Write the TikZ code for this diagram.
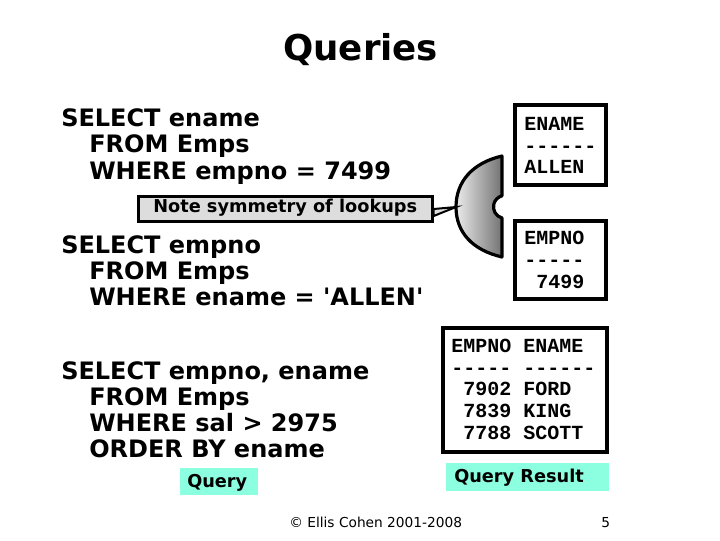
\documentclass[tikz,border=0pt]{standalone}
\usepackage{fontspec}
\setmainfont{DejaVu Sans}
\setmonofont{Liberation Mono}
\newfontfamily\sqlf{DejaVu Sans}
\begin{document}
\begin{tikzpicture}[x=0.75pt,y=-0.75pt,
  txt/.style={inner sep=0pt,anchor=base west},
  sql/.style={txt,font=\fontsize{18}{20}\selectfont\sqlf\bfseries},
  res/.style={txt,font=\fontsize{15}{16.4}\selectfont\ttfamily\bfseries},
  outbox/.style={draw=black,line width=2.7pt,fill=white,inner sep=0pt},
  tag/.style={fill=tagc,inner sep=0pt},
  tagtxt/.style={txt,font=\fontsize{13.3}{15}\selectfont\bfseries},
  foot/.style={txt,font=\fontsize{10.3}{12}\selectfont}]
\definecolor{tagc}{HTML}{8CFFE0}
\definecolor{notec}{HTML}{DDDDDD}
\useasboundingbox (0,0) rectangle (720,540);
\fill[white] (0,0) rectangle (720,540);
\node[txt,font=\fontsize{26.7}{30}\selectfont\bfseries] (title) at (283,60) {Queries};
\node[sql] (q1a) at (61,126.5) {SELECT ename};
\node[sql] (q1b) at (89,152.5) {FROM Emps};
\node[sql] (q1c) at (89,179.5) {WHERE empno = 7499};
\node[sql] (q2a) at (61,253) {SELECT empno};
\node[sql] (q2b) at (89,279) {FROM Emps};
\node[sql] (q2c) at (89,305.5) {WHERE ename = 'ALLEN'};
\node[sql] (q3a) at (61,379.5) {SELECT empno, ename};
\node[sql] (q3b) at (89,405.5) {FROM Emps};
\node[sql] (q3c) at (89,431.5) {WHERE sal > 2975};
\node[sql] (q3d) at (89,457.5) {ORDER BY ename};
% output boxes
\path[outbox] (515,105) rectangle (606,185);
\node[res] (r1a) at (524,130) {ENAME};
\node[res] (r1b) at (524,152) {------};
\node[res] (r1c) at (524,173) {ALLEN};
\path[outbox] (515,221) rectangle (606,299);
\node[res] (r2a) at (524,244) {EMPNO};
\node[res] (r2b) at (524,266) {-----};
\node[res] (r2c) at (536,288) {7499};
\path[outbox] (443,328) rectangle (607,452);
\node[res] (r3a) at (451,352) {EMPNO};
\node[res] (r3b) at (451,374) {-----};
\node[res] (r3c) at (463,395) {7902};
\node[res] (r3d) at (463,417) {7839};
\node[res] (r3e) at (463,439) {7788};
\node[res] (r3f) at (523,352) {ENAME};
\node[res] (r3g) at (523,374) {------};
\node[res] (r3h) at (523,395) {FORD};
\node[res] (r3i) at (523,417) {KING};
\node[res] (r3j) at (523,439) {SCOTT};
% half moon
\def\moon{(502,156) .. controls (472,163) and (456,182) .. (456,207) .. controls (456,232) and (472,250) .. (502,257) -- (502,218) arc[start angle=105,end angle=255,radius=11.5] -- cycle}
\path[left color=black!8,middle color=black!20,right color=black!55] \moon;
\draw[line width=2.4pt,line join=round] \moon;
% note
\node[draw=black,line width=2.4pt,fill=notec,minimum width=220.5pt,minimum height=18.5pt,inner sep=0pt,anchor=north west] (note) at (136.5,195) {};
\path[fill=notec,draw=black,line width=1.5pt,line join=miter] (note.east |- 0,209) -- (456,207) -- (note.east |- 0,216) -- cycle;
\node[tagtxt] (notetxt) at (153,212.5) {Note symmetry of lookups};
% tags
\node[tag,minimum width=58.5pt,minimum height=20.2pt,anchor=north west] (t1) at (180,468) {};
\node[tagtxt] (t1txt) at (187,487) {Query};
\node[tag,minimum width=122pt,minimum height=21pt,anchor=north west] (t2) at (446,463) {};
\node[tagtxt] (t2txt) at (454,482) {Query Result};
% footer
\node[foot] (f1) at (289,527) {© Ellis Cohen 2001-2008};
\node[foot] (f2) at (601,527) {5};
\end{tikzpicture}
\end{document}
